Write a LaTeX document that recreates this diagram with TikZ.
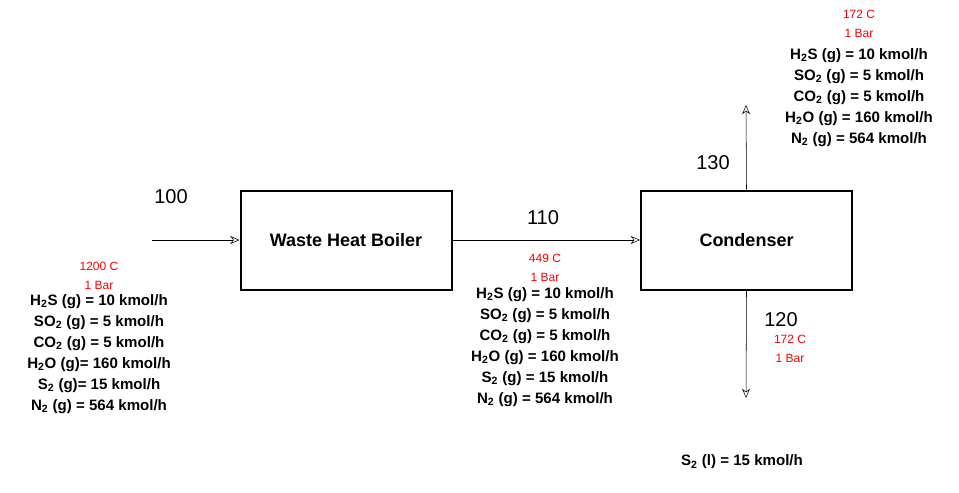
\documentclass[tikz,border=0pt]{standalone}
\usepackage{fontspec}
\setmainfont{Liberation Sans}
\usetikzlibrary{arrows.meta}
\begin{document}
\begin{tikzpicture}[x=0.75pt,y=-0.75pt,
  unit/.style={draw,line width=1.5pt,minimum width=211*0.75pt,minimum height=99*0.75pt,font=\fontsize{13.5}{16}\selectfont\bfseries},
  flow/.style={-{Stealth[length=7pt,width=6pt,open]},thin},
  sno/.style={font=\fontsize{15}{18}\selectfont},
  cond/.style={text=red,align=center,font=\fontsize{9}{14.5}\selectfont,inner sep=0pt},
  comp/.style={align=center,font=\fontsize{11.3}{15.8}\selectfont\bfseries,inner sep=0pt}]
\path[use as bounding box,fill=white] (0,0) rectangle (959,492);
\node[unit] (whb) at (346,240) {Waste Heat Boiler};
\node[unit] (cond) at (746.5,240) {Condenser};
\coordinate (in) at (152,240);
\coordinate (top) at (746,105);
\coordinate (bot) at (746,398);
\draw[flow] (in) -- (whb.west);
\draw[flow] (whb.east) -- (cond.west);
\draw[flow] (cond.north) -- (top);
\draw[flow] (cond.south) -- (bot);
\node[sno] (s100) at (171,197) {100};
\node[sno] (s110) at (543,218) {110};
\node[sno] (s130) at (713,163) {130};
\node[sno] (s120) at (781,320) {120};
\node[cond,anchor=north] (c100) at (99,262) {1200 C\\1 Bar};
\node[comp,anchor=north] (f100) at (99,294) {H\textsubscript{2}S (g) = 10 kmol/h\\SO\textsubscript{2} (g) = 5 kmol/h\\CO\textsubscript{2} (g) = 5 kmol/h\\H\textsubscript{2}O (g)= 160 kmol/h\\S\textsubscript{2} (g)= 15 kmol/h\\N\textsubscript{2} (g) = 564 kmol/h};
\node[cond,anchor=north] (c110) at (545,254) {449 C\\1 Bar};
\node[comp,anchor=north] (f110) at (545,287) {H\textsubscript{2}S (g) = 10 kmol/h\\SO\textsubscript{2} (g) = 5 kmol/h\\CO\textsubscript{2} (g) = 5 kmol/h\\H\textsubscript{2}O (g) = 160 kmol/h\\S\textsubscript{2} (g) = 15 kmol/h\\N\textsubscript{2} (g) = 564 kmol/h};
\node[cond,anchor=north] (c130) at (859,10) {172 C\\1 Bar};
\node[comp,anchor=north] (f130) at (859,48) {H\textsubscript{2}S (g) = 10 kmol/h\\SO\textsubscript{2} (g) = 5 kmol/h\\CO\textsubscript{2} (g) = 5 kmol/h\\H\textsubscript{2}O (g) = 160 kmol/h\\N\textsubscript{2} (g) = 564 kmol/h};
\node[cond,anchor=north] (c120) at (790,335) {172 C\\1 Bar};
\node[comp] (f120) at (742,462) {S\textsubscript{2} (l) = 15 kmol/h};
\end{tikzpicture}
\end{document}
